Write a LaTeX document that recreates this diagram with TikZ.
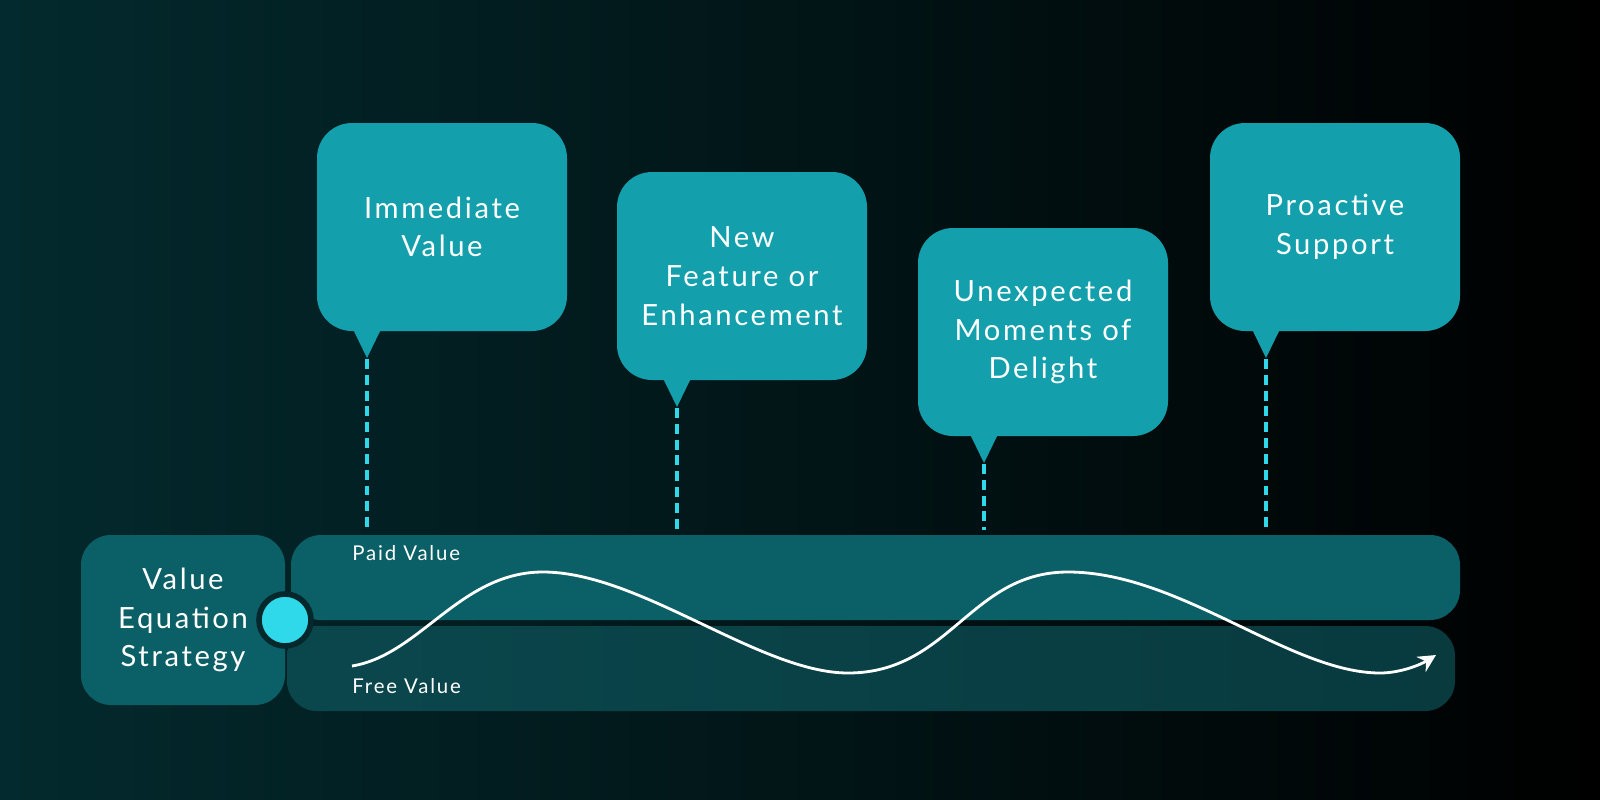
\documentclass[tikz,border=0pt]{standalone}
\usepackage{fontspec}
\setmainfont{Lato}[LetterSpace=9]
\usetikzlibrary{arrows.meta}
\definecolor{bub}{HTML}{13A0AC}
\definecolor{bar}{HTML}{0B5F66}
\definecolor{barb}{HTML}{0A474D}
\definecolor{cy}{HTML}{2FD9E9}
\begin{document}
\begin{tikzpicture}[x=0.01cm,y=-0.01cm,
  bubble/.style={fill=bub,rounded corners=0.35cm},
  btxt/.style={text=white,font=\fontsize{8.3}{11}\selectfont,align=center},
  lbl/.style={text=white,font=\fontsize{5.8}{8}\selectfont,anchor=west},
  dsh/.style={cy,line width=1pt,dash pattern=on 2.8pt off 1.7pt}]
\useasboundingbox (0,0) rectangle (1600,800);
\clip (0,0) rectangle (1600,800);
\shade[left color={rgb,255:red,3;green,42;blue,46},right color=black] (0,0) rectangle (1600,800);
% bubbles
\foreach \n/\x/\y/\t in {b1/317/123/367, b2/617/172/677, b3/918/228/984, b4/1210/123/1266}{
  \fill[bubble] (\x,\y) rectangle ++(250,208);
  \fill[bub] (\t-17,\y+200) -- (\t+17,\y+200) -- (\t,\y+235) -- cycle;
  \coordinate (\n tip) at (\t,\y+236);
  \coordinate (\n bot) at (\t,530);
  \draw[dsh] (\n tip) -- (\n bot);
}
\node[btxt] (t1) at (442,227) {Immediate\\Value};
\node[btxt] (t2) at (742,276) {New\\Feature or\\Enhancement};
\node[btxt] (t3) at (1043,332) {Unexpected\\Moments of\\Delight};
\node[btxt] (t4) at (1335,227) {Proactive\\Support};
% bars
\fill[bar,rounded corners=0.3cm] (81,535) rectangle (285,705);
\node[btxt] (ves) at (183,620) {Value\\Equation\\Strategy};
\fill[bar,rounded corners=0.3cm] (291,535) rectangle (1460,620);
\shade[left color=barb,right color={rgb,255:red,8;green,58;blue,62},rounded corners=0.3cm] (287,626) rectangle (1455,711);
\node[lbl] (paid) at (340,553) {Paid Value};
\node[lbl] (free) at (340,686) {Free Value};
\fill[cy,draw={rgb,255:red,4;green,40;blue,44},line width=1.6pt] (285,620) circle (26);
\coordinate (c0) at (352,666);
\coordinate (c5) at (1436,655);
\draw[white,line width=0.8pt,-{Stealth[length=5pt,width=5pt]}]
  (c0) .. controls (420,655) and (460,572) .. (543,572)
  .. controls (640,572) and (760,673) .. (848,673)
  .. controls (950,673) and (970,572) .. (1068,572)
  .. controls (1180,572) and (1290,673) .. (1380,673)
  .. controls (1400,673) and (1420,665) .. (c5);
\end{tikzpicture}
\end{document}
